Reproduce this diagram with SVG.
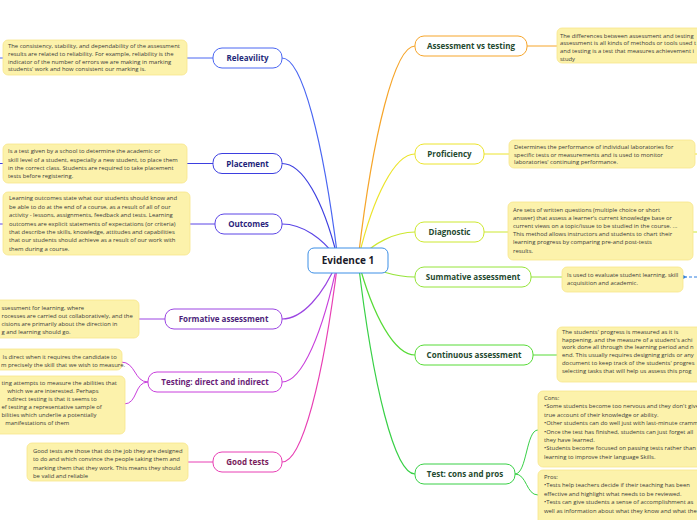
<svg xmlns="http://www.w3.org/2000/svg" width="697" height="520" viewBox="0 0 697 520">
<style>
.bg{fill:#ffffff}
.br{fill:none;stroke-width:1.2}
.ln{fill:none;stroke-width:1}
.node rect{fill:#ffffff;stroke-width:1}
.node text{font-family:"Open Sans","Noto Sans",sans-serif;font-weight:bold;font-size:8px;text-anchor:middle}
.note rect{fill:#fcf2ab;stroke:#f7e68c;stroke-width:0.8}
.note text{font-family:"Open Sans","Noto Sans",sans-serif;font-size:5.9px;fill:#3a3a3a}
</style>
<defs>
<marker id="arr" markerWidth="6" markerHeight="6" refX="1" refY="3" orient="auto" markerUnits="userSpaceOnUse">
<path d="M6,0 L0,3 L6,6 z" fill="#2f7fe0"/>
</marker>
</defs>
<rect class="bg" x="0" y="0" width="697" height="520"/>
<g id="connectors">
<path class="br" stroke="#4a66f2" d="M338,260 C323,139 302,58 282,58"/>
<path class="br" stroke="#3d3fe0" d="M338,260 C323,198 302,163.5 282,163.5"/>
<path class="br" stroke="#5b45e6" d="M338,260 C323,238 302,224 282,224"/>
<path class="br" stroke="#9b45e2" d="M338,260 C323,296 302,319 282,319"/>
<path class="br" stroke="#c83fdc" d="M338,260 C323,333 302,382 282,382"/>
<path class="br" stroke="#e83fb4" d="M338,260 C323,381 302,462 282,462"/>
<path class="br" stroke="#f6a52a" d="M358,260 C373,132 395,46 415,46"/>
<path class="br" stroke="#ece42c" d="M358,260 C373,196 395,154 415,154"/>
<path class="br" stroke="#cde830" d="M358,260 C373,243 395,232 415,232"/>
<path class="br" stroke="#96e43a" d="M358,260 C373,270 395,277 415,277"/>
<path class="br" stroke="#57db36" d="M358,260 C373,317 395,355 415,355"/>
<path class="br" stroke="#38d046" d="M358,260 C373,388 395,474 415,474"/>
<path class="ln" stroke="#4a66f2" d="M0,58 L213,58"/>
<path class="ln" stroke="#3d3fe0" d="M0,163.5 L213,163.5"/>
<path class="ln" stroke="#5b45e6" d="M0,224 L215,224"/>
<path class="ln" stroke="#9b45e2" d="M0,319 L165,319"/>
<path class="ln" stroke="#c83fdc" d="M148,382 C134,382 136,362 121,362"/>
<path class="ln" stroke="#c83fdc" d="M148,382 C134,382 138,404 124,404"/>
<path class="ln" stroke="#e83fb4" d="M30,462 L213,462"/>
<path class="ln" stroke="#f6a52a" d="M527,46 L697,46"/>
<path class="ln" stroke="#ece42c" d="M484,154 L697,154"/>
<path class="ln" stroke="#cde830" d="M484,232 L697,232"/>
<path class="ln" stroke="#96e43a" d="M531,277 L562,277"/>
<path class="ln" stroke="#57db36" d="M533,355 L697,355"/>
<path class="ln" stroke="#38d046" d="M515,474 C527,474 526,430 538,430"/>
<path class="ln" stroke="#38d046" d="M515,474 C527,474 526,495 538,495"/>
<path fill="none" stroke="#2f7fe0" stroke-width="1" stroke-dasharray="3,2" d="M697,277 L686,277" marker-end="url(#arr)"/>
</g>
<g id="note-releavility" class="note">
<rect x="3" y="40" width="184" height="35" rx="5"/>
<text x="8" y="48"><tspan x="8">The consistency, stability, and dependability of the assessment</tspan><tspan x="8" dy="7.8">results are related to reliability. For example, reliability is the</tspan><tspan x="8" dy="7.8">indicator of the number of errors we are making in marking</tspan><tspan x="8" dy="7.8">students' work and how consistent our marking is.</tspan></text>
</g>
<g id="note-placement" class="note">
<rect x="3" y="144" width="184" height="39" rx="5"/>
<text x="8" y="153.3"><tspan x="8">Is a test given by a school to determine the academic or</tspan><tspan x="8" dy="8.3">skill level of a student, especially a new student, to place them</tspan><tspan x="8" dy="8.3">in the correct class. Students are required to take placement</tspan><tspan x="8" dy="8.3">tests before registering.</tspan></text>
</g>
<g id="note-outcomes" class="note">
<rect x="3" y="192" width="187" height="63" rx="5"/>
<text x="9" y="200.3"><tspan x="9">Learning outcomes state what our students should know and</tspan><tspan x="9" dy="8.4">be able to do at the end of a course, as a result of all of our</tspan><tspan x="9" dy="8.4">activity - lessons, assignments, feedback and tests. Learning</tspan><tspan x="9" dy="8.4">outcomes are explicit statements of expectations (or criteria)</tspan><tspan x="9" dy="8.4">that describe the skills, knowledge, attitudes and capabilities</tspan><tspan x="9" dy="8.4">that our students should achieve as a result of our work with</tspan><tspan x="9" dy="8.4">them during a course.</tspan></text>
</g>
<g id="note-formative" class="note">
<rect x="-20" y="300" width="159" height="38" rx="5"/>
<text x="1.5" y="310.3"><tspan x="1.5">ssessment for learning, where</tspan><tspan x="1.5" dy="8">rocesses are carried out collaboratively, and the</tspan><tspan x="1.5" dy="8">cisions are primarily about the direction in</tspan><tspan x="1.5" dy="8">g and learning should go.</tspan></text>
</g>
<g id="note-direct" class="note">
<rect x="-20" y="349" width="142" height="21" rx="5"/>
<text x="2.5" y="359.3"><tspan x="2.5">Is direct when it requires the candidate to</tspan><tspan x="1" dy="7.7">m precisely the skill that we wish to measure.</tspan></text>
</g>
<g id="note-indirect" class="note">
<rect x="-20" y="376" width="145" height="58" rx="5"/>
<text x="1.5" y="385"><tspan x="1.5">ting attempts to measure the abilities that</tspan><tspan x="7.3" dy="7.9">which we are interested. Perhaps</tspan><tspan x="7.3" dy="7.9">ndirect testing is that it seems to</tspan><tspan x="1.5" dy="7.9">ef testing a representative sample of</tspan><tspan x="1.5" dy="7.9">bilities which underlie a potentially</tspan><tspan x="5.3" dy="7.9">manifestations of them</tspan></text>
</g>
<g id="note-goodtests" class="note">
<rect x="27" y="443" width="161" height="38" rx="5"/>
<text x="33" y="453.3"><tspan x="33">Good tests are those that do the job they are designed</tspan><tspan x="33" dy="8.1">to do and which convince the people taking them and</tspan><tspan x="33" dy="8.1">marking them that they work. This means they should</tspan><tspan x="33" dy="8.1">be valid and reliable</tspan></text>
</g>
<g id="note-avt" class="note">
<rect x="557" y="28" width="160" height="35" rx="5"/>
<text x="560" y="37.7"><tspan x="560">The differences between assessment and testing</tspan><tspan x="560" dy="7.6">assessment is all kinds of methods or tools used t</tspan><tspan x="560" dy="7.6">and testing is a test that measures achievement i</tspan><tspan x="560" dy="7.6">study</tspan></text>
</g>
<g id="note-proficiency" class="note">
<rect x="509" y="140" width="186" height="28" rx="5"/>
<text x="514" y="149.3"><tspan x="514">Determines the performance of individual laboratories for</tspan><tspan x="514" dy="7.5">specific tests or measurements and is used to monitor</tspan><tspan x="514" dy="7.5">laboratories' continuing performance.</tspan></text>
</g>
<g id="note-diagnostic" class="note">
<rect x="508" y="202" width="185" height="58" rx="5"/>
<text x="513" y="212"><tspan x="513">Are sets of written questions (multiple choice or short</tspan><tspan x="513" dy="8.1">answer) that assess a learner's current knowledge base or</tspan><tspan x="513" dy="8.1">current views on a topic/issue to be studied in the course. ...</tspan><tspan x="513" dy="8.1">This method allows instructors and students to chart their</tspan><tspan x="513" dy="8.1">learning progress by comparing pre-and post-tests</tspan><tspan x="513" dy="8.1">results.</tspan></text>
</g>
<g id="note-summative" class="note">
<rect x="562" y="267" width="121" height="25" rx="5"/>
<text x="567" y="277.3"><tspan x="567">Is used to evaluate student learning, skill</tspan><tspan x="567" dy="7.7">acquisition and academic.</tspan></text>
</g>
<g id="note-continuous" class="note">
<rect x="557" y="327" width="160" height="55" rx="5"/>
<text x="562" y="334"><tspan x="562">The students' progress is measured as it is</tspan><tspan x="562" dy="7.7">happening, and the measure of a student's achi</tspan><tspan x="562" dy="7.7">work done all through the learning period and n</tspan><tspan x="562" dy="7.7">end. This usually requires designing grids or any</tspan><tspan x="562" dy="7.7">document to keep track of the students' progres</tspan><tspan x="562" dy="7.7">selecting tasks that will help us assess this prog</tspan></text>
</g>
<g id="note-cons" class="note">
<rect x="538" y="391" width="180" height="76" rx="5"/>
<text x="544" y="400"><tspan x="544">Cons:</tspan><tspan x="544" dy="8.4">•Some students become too nervous and they don't give</tspan><tspan x="544" dy="8.4">true account of their knowledge or ability.</tspan><tspan x="544" dy="8.4">•Other students can do well just with last-minute crammi</tspan><tspan x="544" dy="8.4">•Once the test has finished, students can just forget all</tspan><tspan x="544" dy="8.4">they have learned.</tspan><tspan x="544" dy="8.4">•Students become focused on passing tests rather than</tspan><tspan x="544" dy="8.4">learning to improve their language Skills.</tspan></text>
</g>
<g id="note-pros" class="note">
<rect x="538" y="470" width="180" height="60" rx="5"/>
<text x="544" y="479"><tspan x="544">Pros:</tspan><tspan x="544" dy="8.4">•Tests help teachers decide if their teaching has been</tspan><tspan x="544" dy="8.4">effective and highlight what needs to be reviewed.</tspan><tspan x="544" dy="8.4">•Tests can give students a sense of accomplishment as</tspan><tspan x="544" dy="8.4">well as information about what they know and what the</tspan></text>
</g>
<g id="node-releavility" class="node"><rect x="213" y="48" width="69" height="20" rx="9" stroke="#4a66f2"/><text x="247.5" y="61" fill="#1e2a7a">Releavility</text></g>
<g id="node-placement" class="node"><rect x="213" y="153.5" width="69" height="20" rx="9" stroke="#3d3fe0"/><text x="247.5" y="166.5" fill="#1d1f7a">Placement</text></g>
<g id="node-outcomes" class="node"><rect x="215" y="214" width="67" height="20" rx="9" stroke="#5b45e6"/><text x="248.5" y="227" fill="#2c1f7c">Outcomes</text></g>
<g id="node-formative" class="node"><rect x="165" y="309" width="117" height="20" rx="9" stroke="#9b45e2"/><text x="223.5" y="322" fill="#4d1f7a">Formative assessment</text></g>
<g id="node-testing" class="node"><rect x="148" y="372" width="134" height="20" rx="9" stroke="#c83fdc"/><text x="215" y="385" fill="#6a1d78">Testing: direct and indirect</text></g>
<g id="node-goodtests" class="node"><rect x="213" y="452" width="69" height="20" rx="9" stroke="#e83fb4"/><text x="247.5" y="465" fill="#7a1d5c">Good tests</text></g>
<g id="node-avt" class="node"><rect x="415" y="36" width="112" height="20" rx="9" stroke="#f6a52a"/><text x="471" y="49" fill="#1f4a30">Assessment vs testing</text></g>
<g id="node-proficiency" class="node"><rect x="415" y="144" width="69" height="20" rx="9" stroke="#ece42c"/><text x="449.5" y="157" fill="#1f4a30">Proficiency</text></g>
<g id="node-diagnostic" class="node"><rect x="415" y="222" width="69" height="20" rx="9" stroke="#cde830"/><text x="449.5" y="235" fill="#1f4a30">Diagnostic</text></g>
<g id="node-summative" class="node"><rect x="415" y="267" width="116" height="20" rx="9" stroke="#96e43a"/><text x="473" y="280" fill="#1f4a30">Summative assessment</text></g>
<g id="node-continuous" class="node"><rect x="415" y="345" width="118" height="20" rx="9" stroke="#57db36"/><text x="474" y="358" fill="#1f4a30">Continuous assessment</text></g>
<g id="node-testcp" class="node"><rect x="415" y="464" width="100" height="20" rx="9" stroke="#38d046"/><text x="465" y="477" fill="#1f4a30">Test: cons and pros</text></g>
<g id="node-center" class="node"><rect x="308" y="248" width="80" height="25" rx="6" stroke="#3d8fe6" stroke-width="1.2"/><text x="348" y="264" fill="#1a1a2a" style="font-size:10px">Evidence 1</text></g>
</svg>
